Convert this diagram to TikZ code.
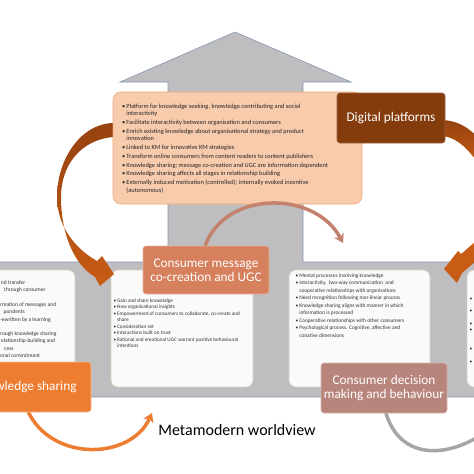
\documentclass[tikz,border=0pt]{standalone}
\usepackage{fontspec}
\setmainfont{Carlito}
\usetikzlibrary{arrows.meta}
\definecolor{bandgray}{RGB}{190,190,192}
\definecolor{bandline}{RGB}{132,151,176}
\definecolor{peach}{RGB}{248,203,173}
\definecolor{peachline}{RGB}{240,170,125}
\definecolor{dpbrown}{RGB}{132,60,12}
\definecolor{cmcolor}{RGB}{214,128,94}
\definecolor{kscolor}{RGB}{237,125,49}
\definecolor{cdcolor}{RGB}{183,133,123}
\definecolor{boxwhite}{RGB}{250,250,250}
\definecolor{boxline}{RGB}{222,205,190}
\definecolor{salmonarc}{RGB}{196,130,110}
\definecolor{greyarc}{RGB}{166,166,166}
\definecolor{ribdark}{RGB}{150,66,16}
\definecolor{riblight}{RGB}{200,92,20}
\newcommand{\bl}{\textbullet\,}
\newcommand{\ind}{\phantom{\textbullet\,}}
\begin{document}
\begin{tikzpicture}[x=1pt,y=-1pt,
  bandshape/.style={fill=bandgray, draw=bandline, line width=0.6pt},
  whitebox/.style={draw=boxline, fill=boxwhite, rounded corners=7pt, line width=0.7pt, inner sep=0pt},
  labelbox/.style={rounded corners=3pt, text=white, align=center, inner sep=0pt, line width=0.6pt,
     font=\fontsize{13.3}{14.5}\selectfont},
  bullettext/.style={align=left, inner sep=0pt, anchor=north west, text=black!80},
  arcarrow/.style={line width=3.5pt, -{Stealth[length=9pt,width=11pt]}},
]
\useasboundingbox (0,0) rectangle (474,474);
\clip (0,0) rectangle (474,474);

% grey band with upward arrow
\draw[bandshape] (-5,262) -- (168,262) -- (168,82) -- (120,82) -- (235,32) -- (351,82)
  -- (303,82) -- (303,262) -- (480,262) -- (480,397) -- (-5,397) -- cycle;

% free ends of the arcs
\coordinate (cmend) at (343,243);
\coordinate (ksend) at (152,413);
\coordinate (cdend) at (495,425);

% white content boxes
\node[whitebox, minimum width=115pt, minimum height=117pt] (leftbox) at (17.5,328.5) {};
\node[whitebox, minimum width=142pt, minimum height=117pt] (midbox) at (182,328.5) {};
\node[whitebox, minimum width=141pt, minimum height=117pt] (rightbox) at (359.5,328.5) {};
\node[whitebox, minimum width=133pt, minimum height=117pt] (farbox) at (533.5,328.5) {};

% texts in white boxes
\node[bullettext, font=\fontsize{5.5}{7.3}\selectfont] (lefttext) at (0,280.5) {%
\hspace*{0.7pt}nd transfer\\
\hspace*{4pt}through consumer\\
\mbox{}\\
rmation of messages and\\
\hspace*{3.5pt}pondents\\
-ewritten by a learning\\
\mbox{}\\
rough knowledge sharing\\
\hspace*{1pt}elationship-building and\\
\hspace*{4pt}cess\\
onal commitment};

\node[bullettext, font=\fontsize{5.2}{6.5}\selectfont] (midtext) at (113.5,298.3) {%
\bl Gain and share knowledge\\
\bl New organisational insights\\
\bl Empowerment of consumers to collaborate, co-create and\\
\ind share\\
\bl Consideration set\\
\bl Interactions built on trust\\
\bl Rational and emotional UGC warrant positive behavioural\\
\ind intentions};

\node[bullettext, font=\fontsize{5.4}{7.5}\selectfont] (righttext) at (295.5,273.5) {%
\bl Mental processes involving knowledge\\
\bl Interactivity,\ \ two-way communication\ \ and\\
\ind cooperative relationships with organisations\\
\bl Need recognition following non-linear process\\
\bl Knowledge sharing aligns with manner in which\\
\ind information is processed\\
\bl Cooperative relationships with other consumers\\
\bl Psychological process. Cognitive, affective and\\
\ind conative dimensions};

\node[bullettext, font=\fontsize{5.4}{6.3}\selectfont] (fartext) at (469.5,297.5) {%
\textbullet\\ \mbox{}\\ \textbullet\\ \mbox{}\\ \textbullet\\ \textbullet\\ \mbox{}\\ \mbox{}\\ \textbullet\\ \mbox{}\\ \textbullet};

% left curved ribbon arrow
\shade[top color=ribdark, bottom color=riblight]
  (113,123) .. controls (80,124) and (57,160) .. (57,197)
  .. controls (57,225) and (74,248) .. (97,261)
  -- (102,256) -- (114,274) -- (100,286) -- (95,277)
  .. controls (73,264) and (61,232) .. (61,197)
  .. controls (61,166) and (80,140) .. (113,137) -- cycle;

% right curved ribbon arrow (top part and bottom part)
\shade[top color=ribdark, bottom color=riblight]
  (440,120) .. controls (458,120) and (470,128) .. (482,142)
  -- (482,168) .. controls (470,152) and (458,136) .. (440,136) -- cycle;
\shade[top color=riblight, bottom color=riblight]
  (482,236) -- (461,254) -- (458,251) -- (444,269) -- (457,283) -- (462,273) -- (482,256) -- cycle;

% peach box with bullet list
\node[draw=peachline, fill=peach, rounded corners=8pt, line width=0.6pt,
  minimum width=249pt, minimum height=112pt, inner sep=0pt] (kmbox) at (237.5,148) {};
\node[bullettext, text=black!85, font=\fontsize{6.4}{7.7}\selectfont] (kmtext) at (122,103.5) {%
\bl Platform for knowledge seeking, knowledge contributing and social\\
\ind interactivity\\[1pt]
\bl Facilitate interactivity between organisation and consumers\\[1pt]
\bl Enrich existing knowledge about organisational strategy and product\\
\ind innovation\\[1pt]
\bl Linked to KM for innovative KM strategies\\[1pt]
\bl Transform online consumers from content readers to content publishers\\[1pt]
\bl Knowledge sharing; message co-creation and UGC are information dependent\\[1pt]
\bl Knowledge sharing affects all stages in relationship building\\[1pt]
\bl Externally induced motivation (controlled); internally evoked incentive\\
\ind (autonomous)};

% Digital platforms label
\node[labelbox, draw=dpbrown!80!white, fill=dpbrown, minimum width=108pt, minimum height=50pt] (dp) at (391,118) {Digital platforms};

% Consumer message arc, then label
\coordinate (cmstart) at (205,246);
\draw[arcarrow, draw=salmonarc] (cmstart) .. controls (225,190) and (315,190) .. (cmend);
\node[labelbox, draw=cmcolor!60!white, fill=cmcolor, minimum width=126pt, minimum height=48pt] (cm) at (206,270) {Consumer message\\co-creation and UGC};

% Knowledge sharing arc, then label
\draw[arcarrow, draw=kscolor] (25.5,405) .. controls (45,462) and (130,462) .. (ksend);
\node[labelbox, draw=kscolor!50!white, fill=kscolor, minimum width=131pt, minimum height=50pt] (ks) at (25.5,387) {Knowledge sharing};

% Consumer decision arc, then label
\draw[line width=3.5pt, draw=greyarc] (384,405) .. controls (395,462) and (450,462) .. (cdend);
\node[labelbox, draw=cdcolor!60!white, fill=cdcolor, minimum width=126pt, minimum height=50pt] (cd) at (384,388) {Consumer decision\\making and behaviour};

% caption
\node[font=\fontsize{16}{18}\selectfont, inner sep=0pt] (caption) at (237,430) {Metamodern worldview};
\end{tikzpicture}
\end{document}
